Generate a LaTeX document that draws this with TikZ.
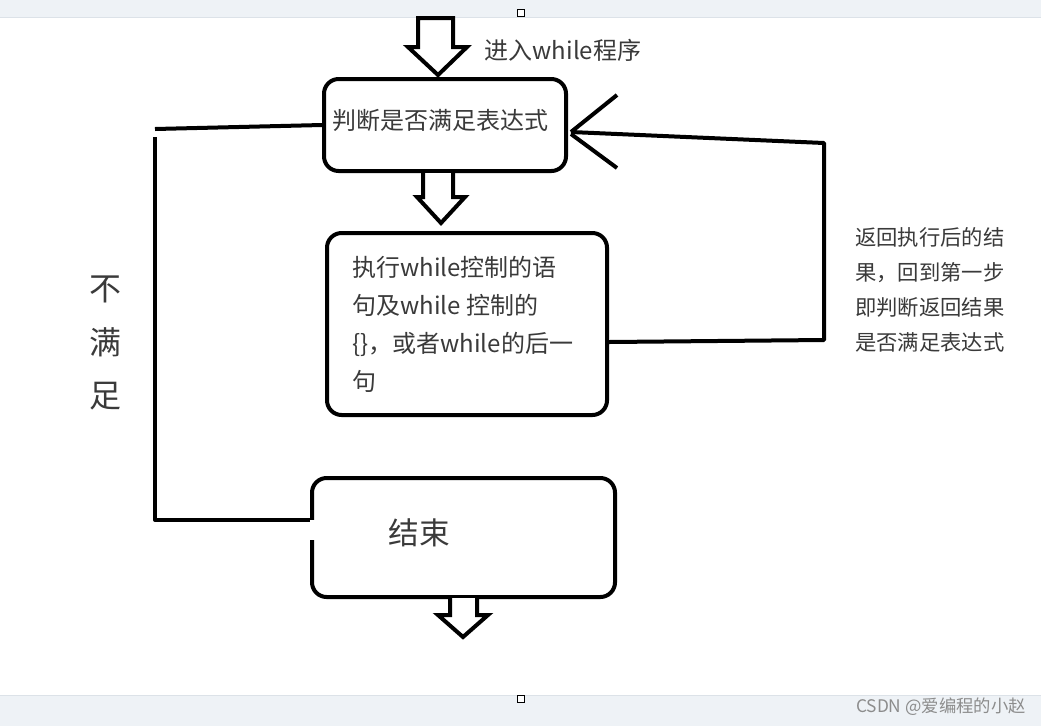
\documentclass[tikz,border=0pt]{standalone}
\usepackage{fontspec}
\setmainfont{Noto Sans CJK SC}
\usetikzlibrary{calc}
\definecolor{band}{HTML}{EEF2F6}
\definecolor{bandline}{HTML}{DCE2E8}
\definecolor{txt}{HTML}{3A3A3A}
\definecolor{wm}{HTML}{8C8C8C}
\begin{document}
\begin{tikzpicture}[x=0.75pt,y=-0.75pt,
  box/.style={draw=black,line width=3pt,rounded corners=11pt,fill=white,inner sep=0pt},
  wire/.style={draw=black,line width=3pt,line join=round},
  hollow/.style={draw=black,line width=3pt,line join=miter,fill=white},
  lbl/.style={text=txt,inner sep=0pt,font=\fontsize{18}{27.75}\selectfont},
  sq/.style={draw=black,line width=0.9pt,fill=white,minimum size=5pt,inner sep=0pt}]
\useasboundingbox (0,0) rectangle (1041,726);
% bands
\fill[white] (0,0) rectangle (1041,726);
\fill[band] (0,0) rectangle (1041,17);
\draw[bandline,line width=0.75pt] (0,17) -- (1041,17);
\fill[band] (0,695) rectangle (1041,726);
\draw[bandline,line width=0.75pt] (0,695) -- (1041,695);
\node[sq] (sqtop) at (521,13) {};
\node[sq] (sqbot) at (521,699) {};
% boxes
\node[box,minimum width=181.5pt,minimum height=69pt] (box1) at (445,125) {};
\node[lbl] (t1) at (440,120) {判断是否满足表达式};
\node[box,minimum width=210pt,minimum height=136.5pt] (box2) at (467,324) {};
\node[lbl,font=\fontsize{18}{28.5}\selectfont,align=left,anchor=north west] (t2) at (352,256) {执行while控制的语\\句及while 控制的\\\{\}，或者while的后一\\句};
\node[box,minimum width=227.25pt,minimum height=89.25pt] (box3) at (463.5,537.5) {};
\fill[white] (306,520) rectangle (318,540);
\node[lbl,font=\fontsize{23}{28}\selectfont] (t3) at (419,533) {结束};
% hollow arrows
\draw[hollow] (418,18) -- (418,47) -- (408,47) -- (438,75) -- (467,47) -- (453,47) -- (453,18) -- cycle;
\node[lbl] (enter) at (563,50) {进入while程序};
\draw[hollow] (423,173) -- (423,197) -- (417,197) -- (441,223) -- (465,197) -- (453,197) -- (453,173);
\draw[hollow] (450,598) -- (450,615) -- (438,615) -- (463,637) -- (488,615) -- (477,615) -- (477,598);
% left loop
\coordinate (lt) at (155,129);
\coordinate (lv) at (155,137);
\coordinate (lb) at (155,520);
\draw[wire] (box1.west) -- (lt);
\draw[wire] (lv) -- (lb) -- (lb -| box3.west);
\node[lbl,font=\fontsize{24}{40}\selectfont,align=center] (no) at (105,343) {不\\满\\足};
% right loop
\coordinate (rb) at (824,340);
\coordinate (rt) at (824,143);
\coordinate (tip) at ($(box1.east)+(3,7)$);
\draw[wire] ($(box2.east)+(0,18)$) -- (rb) -- (rt) -- (tip);
\draw[wire] (tip) -- (617,95);
\draw[wire] ($(tip)+(0,2)$) -- (617,168);
\node[lbl,font=\fontsize{16}{26.25}\selectfont,align=left,anchor=north west] (ret) at (855,227) {返回执行后的结\\果，回到第一步\\即判断返回结果\\是否满足表达式};
% watermark
\node[text=wm,inner sep=0pt,font=\fontsize{13}{15}\selectfont,anchor=east] (wmk) at (1026,707) {CSDN @爱编程的小赵};
\end{tikzpicture}
\end{document}
